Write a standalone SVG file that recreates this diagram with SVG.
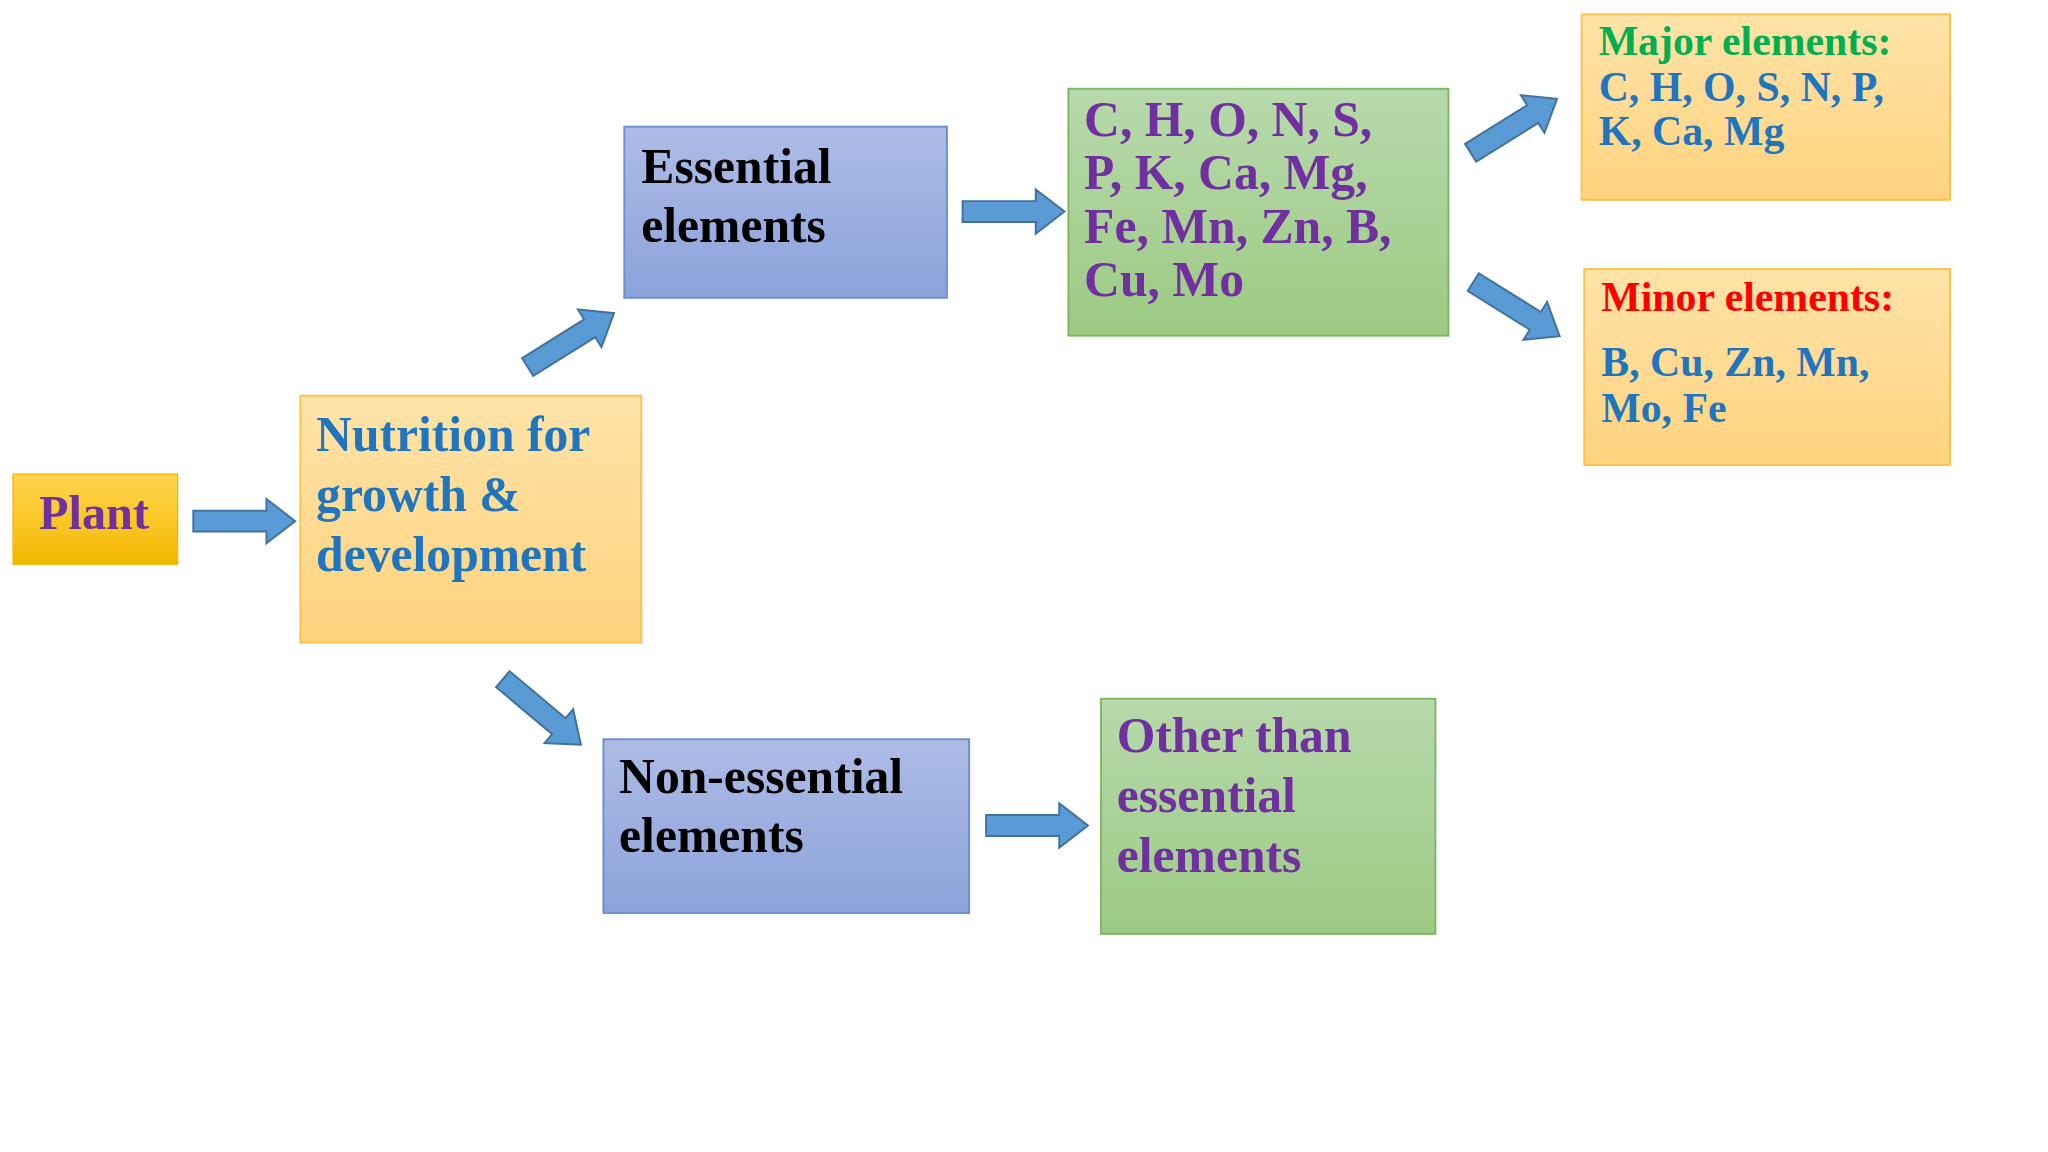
<svg xmlns="http://www.w3.org/2000/svg" width="2048" height="1152" viewBox="0 0 2048 1152">
<defs>
<linearGradient id="gPlant" x1="0" y1="0" x2="0" y2="1"><stop offset="0" stop-color="#FFD54F"/><stop offset="1" stop-color="#F2B800"/></linearGradient>
<linearGradient id="gOr" x1="0" y1="0" x2="0" y2="1"><stop offset="0" stop-color="#FFE3A8"/><stop offset="1" stop-color="#FFD37E"/></linearGradient>
<linearGradient id="gBl" x1="0" y1="0" x2="0" y2="1"><stop offset="0" stop-color="#AEBCE6"/><stop offset="1" stop-color="#8BA2DA"/></linearGradient>
<linearGradient id="gGr" x1="0" y1="0" x2="0" y2="1"><stop offset="0" stop-color="#B8D9AC"/><stop offset="1" stop-color="#9CCA83"/></linearGradient>
<path id="arr" d="M0,-8 H56 V-17 L78,0 L56,17 V8 H0 Z"/>
</defs>
<style>
text{font-family:"Liberation Serif","Times New Roman",serif;font-weight:bold}
.or{fill:url(#gOr);stroke:#F7C54A;stroke-width:1.5}
.bl{fill:url(#gBl);stroke:#6E8ED2;stroke-width:1.5}
.gr{fill:url(#gGr);stroke:#7DB863;stroke-width:1.5}
.a{fill:#5B9BD5;stroke:#41719C;stroke-width:1.5}
.pu{fill:#7030A0}.bu{fill:#1F75BE}.bk{fill:#000}
</style>
<g transform="scale(1.3061)">
<g id="connectors">
<use href="#arr" class="a" transform="translate(148,399)"/>
<use href="#arr" class="a" transform="translate(737,162)"/>
<use href="#arr" class="a" transform="translate(755,632)"/>
<use href="#arr" class="a" transform="translate(404,281) rotate(-32)"/>
<use href="#arr" class="a" transform="translate(385,520) rotate(40)"/>
<use href="#arr" class="a" transform="translate(1126,117) rotate(-32)"/>
<use href="#arr" class="a" transform="translate(1128,216) rotate(32)"/>
</g>
<g id="plant"><rect x="10" y="363" width="126" height="69" fill="url(#gPlant)" stroke="#F2B800"/>
<text x="72" y="405" font-size="37" text-anchor="middle" class="pu">Plant</text></g>
<g id="nutrition"><rect x="230" y="303" width="261" height="189" class="or"/>
<text font-size="38" class="bu"><tspan x="242" y="345">Nutrition for</tspan><tspan x="242" y="391">growth &amp;</tspan><tspan x="242" y="437">development</tspan></text></g>
<g id="essential"><rect x="478" y="97" width="247" height="131" class="bl"/>
<text font-size="38" class="bk"><tspan x="491" y="140">Essential</tspan><tspan x="491" y="185">elements</tspan></text></g>
<g id="elements"><rect x="818" y="68" width="291" height="189" class="gr"/>
<text font-size="38" class="pu"><tspan x="830" y="104">C, H, O, N, S,</tspan><tspan x="830" y="145">P, K, Ca, Mg,</tspan><tspan x="830" y="186">Fe, Mn, Zn, B,</tspan><tspan x="830" y="227">Cu, Mo</tspan></text></g>
<g id="major"><rect x="1211" y="11" width="282" height="142" class="or"/>
<text font-size="32"><tspan x="1224" y="42" fill="#00B050">Major elements:</tspan><tspan x="1224" y="77" class="bu">C, H, O, S, N, P,</tspan><tspan x="1224" y="111" class="bu">K, Ca, Mg</tspan></text></g>
<g id="minor"><rect x="1213" y="206" width="280" height="150" class="or"/>
<text font-size="32"><tspan x="1226" y="238" fill="#FF0000">Minor elements:</tspan><tspan x="1226" y="288" class="bu">B, Cu, Zn, Mn,</tspan><tspan x="1226" y="323" class="bu">Mo, Fe</tspan></text></g>
<g id="nonessential"><rect x="462" y="566" width="280" height="133" class="bl"/>
<text font-size="38" class="bk"><tspan x="474" y="607">Non-essential</tspan><tspan x="474" y="652">elements</tspan></text></g>
<g id="other"><rect x="843" y="535" width="256" height="180" class="gr"/>
<text font-size="38" class="pu"><tspan x="855" y="576">Other than</tspan><tspan x="855" y="622">essential</tspan><tspan x="855" y="668">elements</tspan></text></g>
</g>
</svg>
